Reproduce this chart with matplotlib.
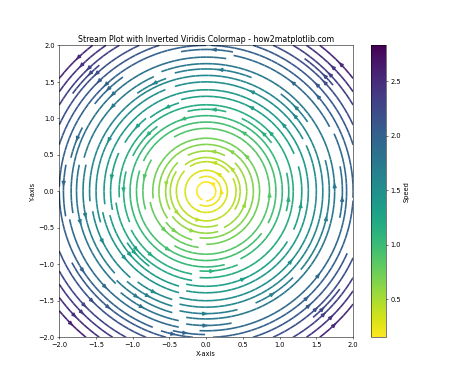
import numpy as np
import matplotlib
matplotlib.use('Agg')
import matplotlib.pyplot as plt

# grid for the vector field
x_range = (-2, 2)
y_range = (-2, 2)
n_points = 20

x = np.linspace(x_range[0], x_range[1], n_points)
y = np.linspace(y_range[0], y_range[1], n_points)
X, Y = np.meshgrid(x, y)

# rotational field
U = -Y
V = X
speed = np.sqrt(U ** 2 + V ** 2)

fig, ax = plt.subplots(figsize=(10, 8), dpi=47.4)

strm = ax.streamplot(X, Y, U, V, color=speed, cmap='viridis_r',
                     density=1.5, linewidth=2.5)

cbar = fig.colorbar(strm.lines, ax=ax)
cbar.set_label('Speed')

ax.set_title('Stream Plot with Inverted Viridis Colormap - how2matplotlib.com')
ax.set_xlabel('X-axis')
ax.set_ylabel('Y-axis')

fig.savefig('out.png')
